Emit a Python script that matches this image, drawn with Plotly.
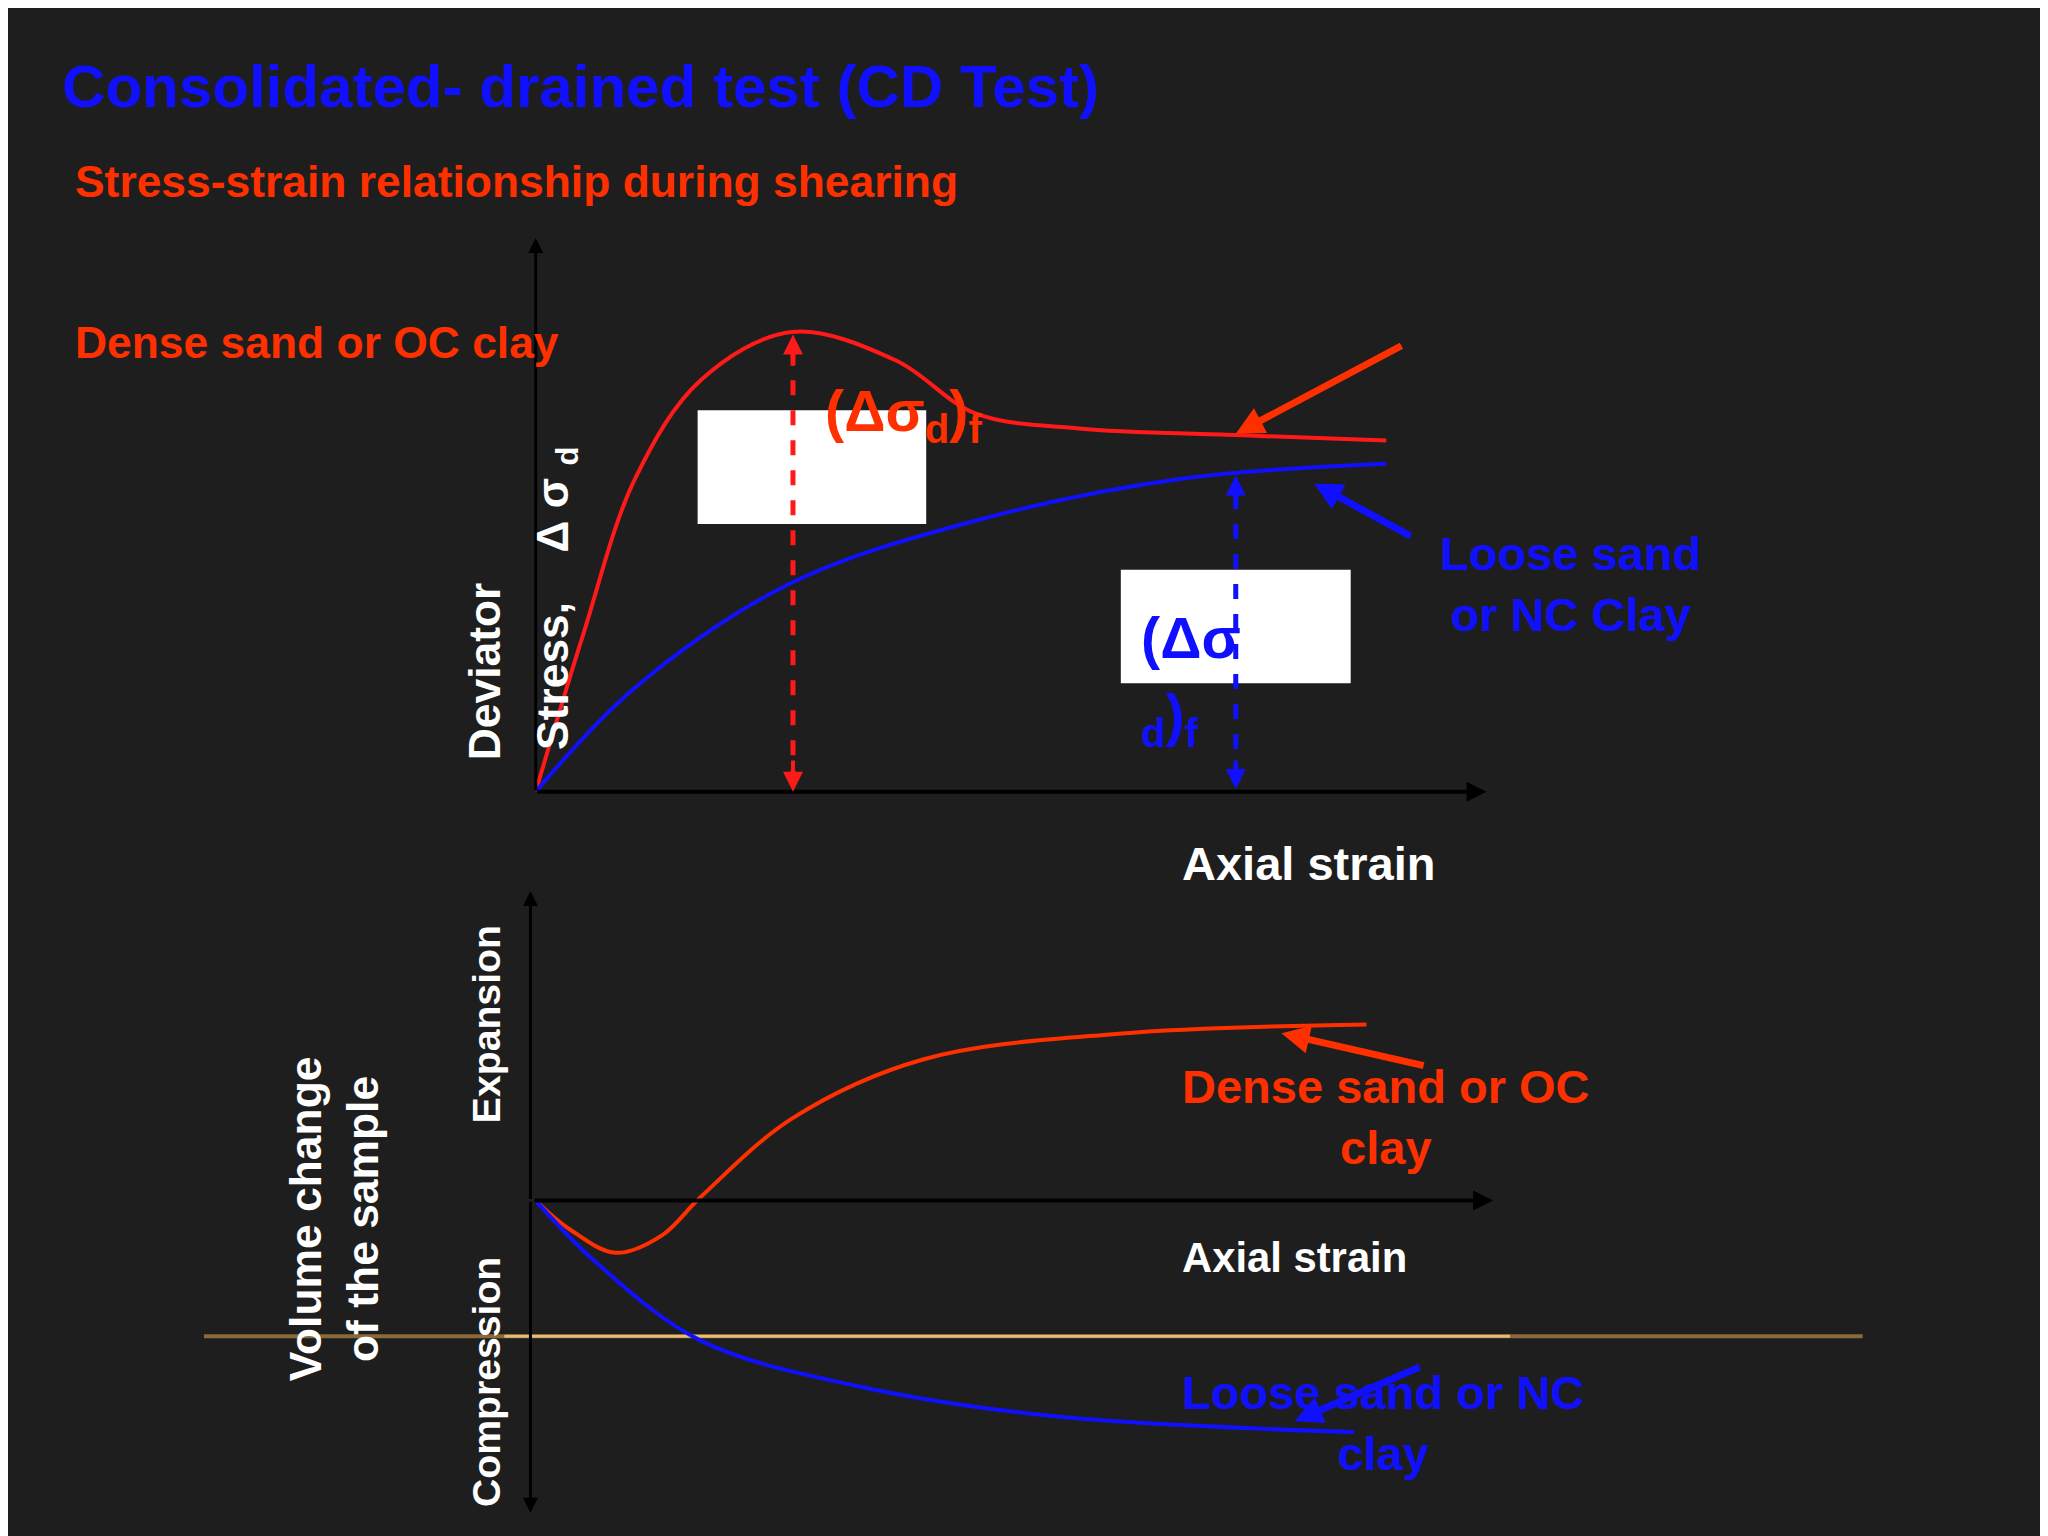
import plotly.graph_objects as go

# --- data (strain, stress) ---
red_top_x = [0, 0.5, 1.05, 1.74, 2.7, 3.8, 4.63, 5.73, 7.38, 8.97]
red_top_y = [0, 2.86, 5.71, 7.5, 8.38, 7.86, 6.9, 6.62, 6.5, 6.4]
blue_top_x = [0, 1.05, 2.7, 4.77, 6.83, 8.97]
blue_top_y = [0, 1.9, 3.81, 5.0, 5.71, 5.98]

red_bot_x = [0, 0.36, 0.84, 1.32, 1.73, 2.69, 4.06, 6.11, 8.71]
red_bot_y = [0, -0.47, -0.85, -0.57, 0.06, 1.34, 2.30, 2.72, 2.87]
blue_bot_x = [0, 0.63, 1.73, 3.37, 5.42, 8.58]
blue_bot_y = [0, -1.0, -2.28, -3.02, -3.51, -3.77]

W, H = 1568, 1176
S = 2048 / W
X = lambda px: px / W
Y = lambda py: 1 - py / H
RED = "#ff3000"
BLUE = "#1010ff"
FONT = "Liberation Sans"

fig = go.Figure()
fig.add_trace(go.Scatter(x=red_top_x, y=red_top_y, mode="lines", line=dict(color="#ff1a1a", width=4, shape="spline"), xaxis="x", yaxis="y"))
fig.add_trace(go.Scatter(x=blue_top_x, y=blue_top_y, mode="lines", line=dict(color="#1010ff", width=4, shape="spline"), xaxis="x", yaxis="y"))
fig.add_trace(go.Scatter(x=red_bot_x, y=red_bot_y, mode="lines", line=dict(color=RED, width=4, shape="spline"), xaxis="x2", yaxis="y2"))
fig.add_trace(go.Scatter(x=blue_bot_x, y=blue_bot_y, mode="lines", line=dict(color="#1010ff", width=4, shape="spline"), xaxis="x2", yaxis="y2"))

ax_common = dict(showgrid=False, zeroline=False, showticklabels=False, showline=False, fixedrange=True)
fig.update_layout(
    width=2048, height=1536, margin=dict(l=0, r=0, t=0, b=0),
    paper_bgcolor="#1e1e1e", plot_bgcolor="rgba(0,0,0,0)", showlegend=False,
    xaxis=dict(domain=[X(404), X(1130)], range=[0, 10], **ax_common),
    yaxis=dict(domain=[Y(600), Y(180)], range=[0, 10], **ax_common),
    xaxis2=dict(domain=[X(404), X(1135)], range=[0, 10.01], anchor="y2", **ax_common),
    yaxis2=dict(domain=[Y(1150), Y(680)], range=[-5.04, 4.96], anchor="x2", **ax_common),
)

shapes = []
# glow line
shapes.append(dict(type="line", xref="paper", yref="paper", x0=X(150), x1=X(1420), y0=Y(1017), y1=Y(1017),
                   line=dict(color="rgba(230,170,80,0.55)", width=4), layer="below"))
shapes.append(dict(type="line", xref="paper", yref="paper", x0=X(380), x1=X(1150), y0=Y(1017), y1=Y(1017),
                   line=dict(color="rgba(255,210,130,0.8)", width=3), layer="below"))
# white boxes
for x0, y0, x1, y1 in [(528, 308, 703, 395), (852, 430, 1028, 517)]:
    shapes.append(dict(type="rect", xref="paper", yref="paper", x0=X(x0), x1=X(x1), y0=Y(y0), y1=Y(y1),
                       fillcolor="white", line=dict(width=0)))
# dashed lines
shapes.append(dict(type="line", xref="paper", yref="paper", x0=X(601), x1=X(601), y0=Y(262), y1=Y(588),
                   line=dict(color="#ff1a1a", width=5, dash="dash")))
shapes.append(dict(type="line", xref="paper", yref="paper", x0=X(940), x1=X(940), y0=Y(372), y1=Y(588),
                   line=dict(color="#1010ff", width=5, dash="dash")))
fig.update_layout(shapes=shapes)

ann = []
def arrow(x0, y0, x1, y1, color, width=3, head=2, size=1.0):
    ann.append(dict(xref="paper", yref="paper",
                    x=X(x1), y=Y(y1), ax=(x0 - x1) * S, ay=(y0 - y1) * S, text="", showarrow=True,
                    arrowhead=head, arrowwidth=width, arrowcolor=color, arrowsize=size))

def text(s, px, py, color, size, angle=0, xanchor="left", yanchor="middle"):
    ann.append(dict(xref="paper", yref="paper", x=X(px), y=Y(py), text=s, showarrow=False,
                    font=dict(family=FONT, size=size * S, color=color), textangle=angle,
                    xanchor=xanchor, yanchor=yanchor))

# axes
arrow(404, 600, 1132, 600, "black", 4)
arrow(404, 600, 404, 176, "black", 3)
arrow(402, 913, 1137, 913, "black", 4)
arrow(400, 913, 400, 676, "black", 3)
arrow(400, 913, 400, 1152, "black", 3)
# dashed arrow heads
arrow(601, 275, 601, 250, "#ff1a1a", 4)
arrow(601, 575, 601, 600, "#ff1a1a", 4)
arrow(940, 385, 940, 358, "#1010ff", 4)
arrow(940, 575, 940, 598, "#1010ff", 4)
# pointers
arrow(1068, 258, 940, 326, RED, 7, 2, 0.8)
arrow(1075, 405, 1000, 364, BLUE, 7, 2, 0.8)
arrow(1085, 810, 975, 785, RED, 7, 2, 0.8)
arrow(1082, 1040, 985, 1082, BLUE, 7, 2, 0.8)

text("<b>Consolidated- drained test (CD Test)</b>", 40, 60, BLUE, 46)
text("<b>Stress-strain relationship during shearing</b>", 50, 133, RED, 34)
text("<b>Dense sand or OC clay</b>", 50, 256, RED, 34)
text("<b>Deviator</b>", 365, 508, "white", 34, -90, "center")
text("<b>Stress,    Δ σ <sub>d</sub></b>", 420, 452, "white", 34, -90, "center")
text("<b>(Δσ<sub>d</sub>)<sub>f</sub></b>", 624, 312, RED, 44)
text("<b>(Δσ</b>", 866, 482, BLUE, 44)
text("<b><sub>d</sub>)<sub>f</sub></b>", 866, 545, BLUE, 44)
text("<b>Loose sand<br>or NC Clay</b>", 1095, 441, BLUE, 36)
text("<b>Axial strain</b>", 897, 655, "white", 36)
text("<b>Expansion</b>", 366, 778, "white", 30, -90, "center")
text("<b>Compression</b>", 366, 1052, "white", 30, -90, "center")
text("<b>Volume change<br>of the sample</b>", 250, 927, "white", 34, -90, "center")
text("<b>Dense sand or OC<br>clay</b>", 897, 849, RED, 36)
text("<b>Axial strain</b>", 897, 957, "white", 32)
text("<b>Loose sand or NC<br>clay</b>", 897, 1083, BLUE, 36)
fig.update_layout(annotations=ann)

fig.write_html("out.html")
